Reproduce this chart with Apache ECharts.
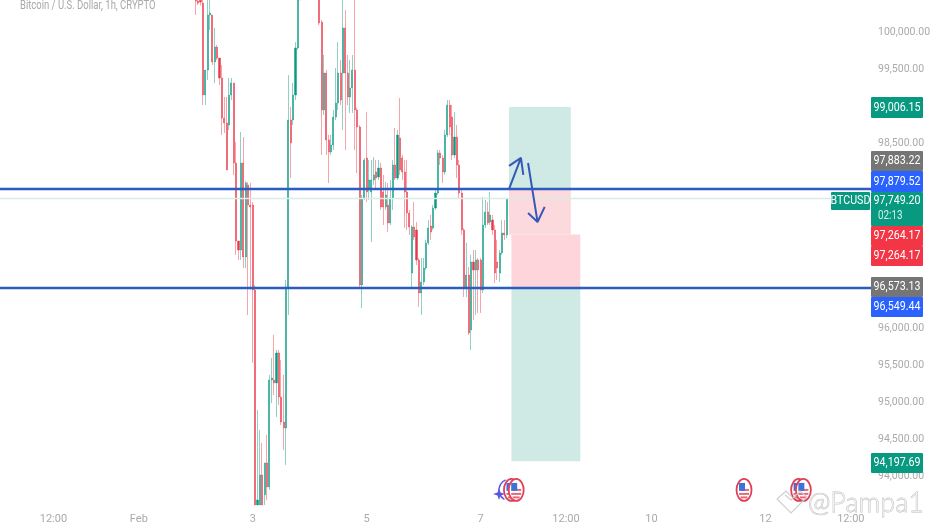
<!DOCTYPE html>
<html>
<head>
<meta charset="utf-8">
<style>html,body{margin:0;padding:0;background:#fff}#chart{width:932px;height:524px}</style>
<script src="https://cdn.jsdelivr.net/npm/echarts@6/dist/echarts.min.js"></script>
</head>
<body>
<div id="chart"></div>
<script>
const titleText = 'Bitcoin / U.S. Dollar, 1h, CRYPTO';

// hourly slots across the visible time range, labels sit on the slots below
const slotCount = 367;
const tickSlots = [22, 58, 106, 154, 202, 238, 274, 322, 358];
const tickLabels = ['12:00', 'Feb', '3', '5', '7', '12:00', '10', '12', '12:00'];

// price ticks that the tags cover in the picture
const coveredTicks = [99000, 98000, 97500, 97000, 96500];

const firstCandleSlot = 82;
// open, close, low, high
const candleValues = [
  [100472,100418,100230,100540],[100418,100390,100365,100500],[100430,100405,100360,100480],
  [100392,99150,99013,100432],[99150,99486,99013,99486],[99486,100230,99351,100500],
  [100230,100257,100027,100432],[100230,99594,99554,100230],[99594,99797,99311,100054],
  [99797,99648,99621,99824],[99648,99378,99284,99648],[99378,98838,98608,99554],
  [98838,98770,98635,99122],[98770,98135,98135,99122],[98743,99149,98676,99378],
  [99149,99311,99081,99378],[99311,98230,98068,99311],[98230,97176,96987,98514],
  [97176,97054,96919,97176],[97054,98230,96919,98649],[98230,96960,96811,98581],
  [96960,97960,96811,97987],[97933,97662,96176,97973],[97662,97635,96514,97960],
  [97662,96514,95528,97703],[96514,93608,93608,96581],[93608,93677,93608,94893],
  [93608,94015,93608,94622],[94015,93608,93608,94447],[93745,94177,93608,94177],
  [94177,93853,93677,94555],[93853,95298,93812,95365],[95298,95325,94987,95595],
  [95298,95258,95095,95906],[95258,95663,94798,95703],[95663,95068,94960,95703],
  [95068,94730,94690,95568],[94730,94649,94352,95365],[94649,96555,94150,96649],
  [96555,98811,96176,99419],[98811,98500,98027,98986],[98811,99149,98743,99311],
  [99149,99784,99081,99865],[99784,100432,99757,100500],
  // these ones run above the top of the picture
  [100432,100700,100432,100780],[100700,100850,100640,100920],[100850,100700,100650,100950],
  [100700,100900,100660,100980],[100900,100820,100760,101000],[100820,100760,100700,100900],
  [100760,100680,100600,100840],[100680,100500,100460,100760],
  [100432,100121,100094,100500],[100135,98946,98338,100162],[98946,99446,98878,99689],
  [99446,98541,98338,99486],[98541,98378,97960,98608],[98378,98473,98338,98608],
  [98473,98851,98405,98946],[98851,99040,98811,99513],[99040,99446,98946,99865],
  [99446,99081,99013,99621],[99446,100054,98676,100432],[100054,99446,98405,100297],
  [99446,99122,99013,99689],[99122,99243,98905,99621],[99243,99486,98905,99689],
  [99486,98946,98405,100567],[98946,98716,98095,98973],[98716,96581,96555,98743],
  [96581,97757,96271,97798],[97757,98270,97730,98297],[98297,97838,97703,98919],
  [97865,98000,97730,98270],[97838,98000,97162,98270],[98000,98068,97933,98311],
  [98108,98027,97865,98270],[98041,98162,98000,98270],[98162,97635,97595,98230],
  [97838,97635,97392,98068],[97635,97797,97595,97973],[97662,97419,97297,97960],
  [97419,97757,97392,98000],[97757,98202,97595,98270],[98202,98027,98000,98703],
  [98027,98608,98000,98676],[98568,98135,98068,99108],[98297,98108,98000,98338],
  [98108,97838,97351,98270],[97838,97554,97325,98270],[97554,97365,97257,97595],
  [96743,97365,96554,97392],[97365,97230,97190,97703],[97325,96919,96851,97432],
  [96919,96473,96284,96946],[96473,96622,96176,96946],[96622,96811,96581,96946],
  [96811,97149,96784,97190],[97149,97351,97122,97460],[97378,97297,97190,97527],
  [97351,97622,97325,97662],[97622,97824,97595,97865],[97824,98365,97797,98405],
  [98365,98297,98203,98405],[98297,98108,97960,98338],[98108,98608,98068,98676],
  [98608,99013,98581,99081],[99013,98716,98608,99081],[98851,98338,98270,99013],
  [98338,98581,98297,98919],[98581,98202,98027,98743],[98202,97824,97757,98270],
  [97824,97325,97257,97865],[97325,96554,96419,97351],[96554,96716,96419,97149],
  [96716,95933,95906,96824],[95974,96892,95703,96987],[96892,96784,96109,97054],
  [96784,96919,96176,97054],[96919,96784,96203,96946],[96919,96514,96203,96946],
  [96514,97392,96473,97770],[97392,97568,97351,97730],[97568,97419,97392,97703],
  [97432,97527,97392,97838],[97460,97325,97257,97527],[97325,96743,96608,97392],
  [96892,96811,96649,97190],[96743,97014,96622,97054],[97014,97284,96987,97460],
  [97284,97257,97190,97460],[97257,97749,97216,97757]
];

const upperLevel = 97879.52;
const lowerLevel = 96549.44;
const lastPrice = 97749.20;

// slot ranges and prices of the two long/short position boxes
const profitBoxA = [214, 240, 97879.52, 98985];
const lossBoxA = [214, 240, 97264.17, 97879.52];
const lossBoxB = [215, 244, 96549.44, 97264.17];
const profitBoxB = [215, 244, 94197.69, 96549.44];

// hand drawn arrows: slot, price
const arrowUp = [[214,97880],[219,98298],[214,98190],[219,98298],[220,98068]];
const arrowDown = [[222,98230],[226,97433],[222,97555],[226,97433],[229,97636]];

// calendar events along the bottom
const eventSlots = [215, 217, 313, 336, 338];
const eventPrice = 93812;

const tagTexts = ['99,006.15', '97,883.22', '97,879.52', '97,749.20', '97,264.17', '97,264.17', '96,573.13', '96,549.44', '94,197.69'];
const symbolText = 'BTCUSD';
const countdownText = '02:13';
const watermarkText = '@Pampa1';

const green = '#089981';
const red = '#f23645';
const blue = '#2962ff';
const gray = '#757575';
const axisGray = '#aaaaaa';
const labelFont = 'Roboto, sans-serif';

const categories = [];
for (let i = 0; i < slotCount; i++) categories.push('h' + i);
const emptyCandle = [NaN, NaN, NaN, NaN];
const candleData = [];
for (let i = 0; i < firstCandleSlot; i++) candleData.push(emptyCandle);
candleValues.forEach(function (row) { candleData.push(row); });

function boxArea(box, color) {
  return [
    { xAxis: categories[box[0]], yAxis: box[2], itemStyle: { color: color } },
    { xAxis: categories[box[1]], yAxis: box[3] }
  ];
}

// tag layout on the price scale: top, height, colour
const tagBoxes = [
  [97, 21, green], [151, 20, gray], [171, 21, blue], [192, 34, green],
  [226, 20, red], [246, 20, red], [277, 20, gray], [297, 20, blue], [453, 20, green]
];

function narrowText(text, x, y, size, color, align) {
  return {
    type: 'text',
    z: 31,
    x: x,
    y: y,
    scaleX: 0.82,
    style: { text: text, fill: color, font: size + 'px ' + labelFont, align: align || 'center', verticalAlign: 'middle' }
  };
}

function priceTag(i) {
  const b = tagBoxes[i];
  const isLast = tagTexts[i] === '97,749.20';
  return {
    type: 'group',
    children: [
      { type: 'rect', z: 30, shape: { x: 871, y: b[0], width: 52, height: b[1], r: 1 }, style: { fill: b[2] } },
      narrowText(tagTexts[i], 897, b[0] + (isLast ? 9 : b[1] / 2), 13, '#fff')
    ]
  };
}

function eventFlag(params, api) {
  const p = api.coord([api.value(0), api.value(1)]);
  return {
    type: 'group',
    x: p[0],
    y: p[1],
    children: [
      { type: 'ellipse', shape: { cx: 0, cy: 0, rx: 7.5, ry: 11 }, style: { fill: '#fff', stroke: '#dd4058', lineWidth: 1.8 } },
      { type: 'rect', shape: { x: -3, y: -1, width: 8, height: 2 }, style: { fill: '#e8687a' } },
      { type: 'rect', shape: { x: -5, y: 3, width: 10, height: 2 }, style: { fill: '#e8687a' } },
      { type: 'rect', shape: { x: -3.5, y: 6.5, width: 7, height: 2 }, style: { fill: '#e8687a' } },
      { type: 'rect', shape: { x: -5, y: -7, width: 6, height: 8 }, style: { fill: '#3f72d9' } }
    ]
  };
}

const chart = echarts.init(document.getElementById('chart'));

chart.setOption({
  animation: false,
  backgroundColor: '#fff',
  grid: { left: 0, right: 61, top: -5, height: 518, outerBoundsMode: 'none' },
  xAxis: {
    type: 'category',
    data: categories,
    boundaryGap: true,
    axisLine: { show: false },
    axisTick: { show: false },
    splitLine: { show: false },
    axisLabel: {
      color: axisGray,
      fontSize: 11,
      fontFamily: labelFont,
      margin: 1,
      interval: function (index) { return tickSlots.indexOf(index) >= 0; },
      formatter: function (value, index) { return tickLabels[tickSlots.indexOf(index)]; }
    }
  },
  yAxis: {
    type: 'value',
    position: 'right',
    min: 93500,
    max: 100500,
    interval: 500,
    axisLine: { show: false },
    axisTick: { show: false },
    splitLine: { show: false },
    axisLabel: {
      color: axisGray,
      fontSize: 10.5,
      fontFamily: labelFont,
      margin: 7,
      showMinLabel: false,
      formatter: function (v) {
        if (coveredTicks.indexOf(v) >= 0) return '';
        return v.toLocaleString('en-US', { minimumFractionDigits: 2, maximumFractionDigits: 2 });
      }
    }
  },
  series: [
    {
      type: 'candlestick',
      data: candleData,
      barWidth: 1.6,
      z: 3,
      itemStyle: {
        color: green,
        color0: '#e2394f',
        borderColor: 'rgba(8,153,129,0.45)',
        borderColor0: 'rgba(242,54,69,0.45)',
        borderWidth: 1
      },
      markArea: {
        silent: true,
        z: 1,
        data: [
          boxArea(profitBoxA, '#cfe9e4'),
          boxArea(lossBoxA, '#fcd9dd'),
          boxArea(lossBoxB, '#fdd5da'),
          boxArea(profitBoxB, '#cfe9e4')
        ]
      },
      markLine: {
        silent: true,
        symbol: 'none',
        label: { show: false },
        z: 4,
        data: [
          { yAxis: lastPrice, lineStyle: { color: '#d8ece8', width: 1.4, type: 'solid' } },
          { yAxis: upperLevel, lineStyle: { color: '#2a5dbf', width: 2.4, type: 'solid' } },
          { yAxis: lowerLevel, lineStyle: { color: '#2a5dbf', width: 2.4, type: 'solid' } }
        ]
      }
    },
    {
      type: 'line',
      data: arrowUp,
      symbol: 'none',
      z: 6,
      lineStyle: { color: '#3658b8', width: 2 }
    },
    {
      type: 'line',
      data: arrowDown,
      symbol: 'none',
      z: 6,
      lineStyle: { color: '#3658b8', width: 2 }
    },
    {
      type: 'custom',
      data: eventSlots.map(function (s) { return [s, eventPrice]; }),
      renderItem: eventFlag,
      z: 7,
      clip: false
    }
  ],
  graphic: tagTexts.map(function (t, i) { return priceTag(i); }).concat([
    {
      type: 'group',
      children: [
        { type: 'text', z: 31, x: 20, y: 6, scaleX: 0.73, style: { text: titleText, fill: '#a9a9a9', font: '13px ' + labelFont, align: 'left', verticalAlign: 'middle' } },
        { type: 'rect', z: 30, shape: { x: 831, y: 192, width: 39, height: 18, r: 1 }, style: { fill: green } },
        narrowText(symbolText, 850.5, 201, 13, '#fff'),
        narrowText(countdownText, 878, 216, 12, '#d6efe9', 'left')
      ]
    },
    {
      type: 'polygon',
      z: 22,
      shape: { points: [[499, 488], [500.5, 492.5], [505, 494], [500.5, 495.5], [499, 500], [497.5, 495.5], [493, 494], [497.5, 492.5]] },
      style: { fill: '#5a55e0' }
    },
    {
      type: 'arc',
      z: 6,
      shape: { cx: 510, cy: 490, r: 11, startAngle: 2.1, endAngle: 4.3, clockwise: true },
      style: { fill: 'none', stroke: '#5a55e0', lineWidth: 1.4 }
    },
    {
      type: 'polyline',
      z: 22,
      shape: { points: [[777, 499], [786, 491], [792, 497]] },
      style: { fill: 'none', stroke: '#cfcfcf', lineWidth: 1.2 }
    },
    {
      type: 'polyline',
      z: 22,
      shape: { points: [[777, 499], [791, 513], [807, 497], [800, 491], [791, 500], [785, 495]] },
      style: { fill: 'none', stroke: '#cfcfcf', lineWidth: 1.2 }
    },
    {
      type: 'text',
      z: 22,
      x: 808,
      y: 503,
      style: {
        text: watermarkText,
        font: '300 27px Lato, sans-serif',
        fill: 'rgba(255,255,255,0.6)',
        stroke: '#bdbdbd',
        lineWidth: 0.8,
        verticalAlign: 'middle'
      }
    }
  ])
});
</script>
</body>
</html>
